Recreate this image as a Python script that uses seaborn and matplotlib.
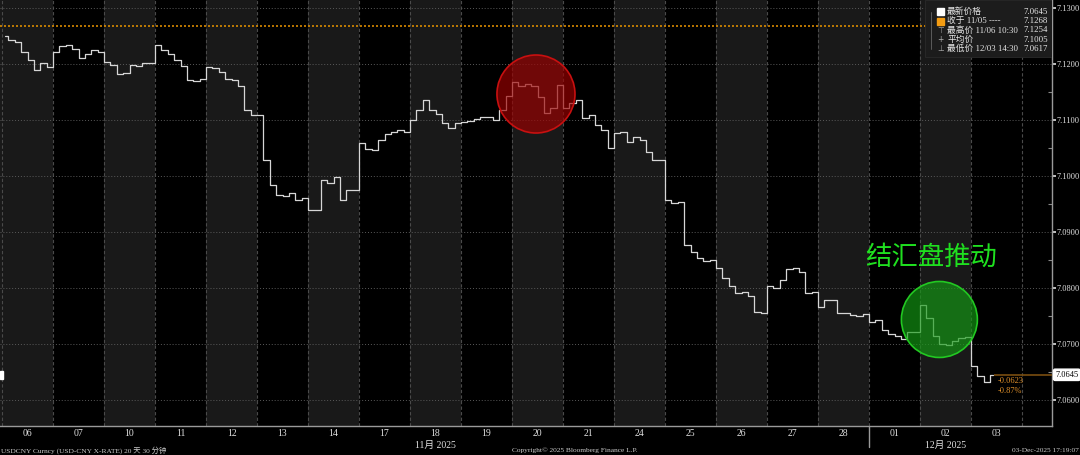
import numpy as np
import pandas as pd
import seaborn as sns
import matplotlib.pyplot as plt
from matplotlib.patches import Ellipse, Rectangle

# 交易日
days = ['06', '07', '10', '11', '12', '13', '14', '17', '18', '19',
        '20', '21', '24', '25', '26', '27', '28', '01', '02', '03']

# 每日收盘价（30分钟，按图读取）
d06 = [7.1250, 7.1243, 7.1239, 7.1221, 7.1207, 7.1189, 7.1202, 7.1195]
d07 = [7.1221, 7.1232, 7.1234, 7.1227, 7.1211, 7.1218, 7.1225, 7.1221]
d10 = [7.1204, 7.1198, 7.1182, 7.1184, 7.1198, 7.1196, 7.1202, 7.1202]
d11 = [7.1234, 7.1225, 7.1218, 7.1207, 7.1196, 7.1171, 7.1170, 7.1173]
d12 = [7.1195, 7.1193, 7.1186, 7.1173, 7.1171, 7.1161, 7.1118, 7.1109]
d13 = [7.1109, 7.1029, 7.0984, 7.0966, 7.0964, 7.0970, 7.0957, 7.0961]
d14 = [7.0939, 7.0939, 7.0993, 7.0988, 7.0998, 7.0957, 7.0975, 7.0975]
d17 = [7.1059, 7.1048, 7.1046, 7.1064, 7.1075, 7.1079, 7.1082, 7.1079]
d18 = [7.1100, 7.1118, 7.1136, 7.1118, 7.1111, 7.1095, 7.1086, 7.1095]
d19 = [7.1096, 7.1098, 7.1102, 7.1105, 7.1105, 7.1100, 7.1118, 7.1143]
d20 = [7.1168, 7.1161, 7.1164, 7.1161, 7.1141, 7.1113, 7.1121, 7.1163]
d21 = [7.1121, 7.1130, 7.1136, 7.1104, 7.1109, 7.1091, 7.1082, 7.1050]
d24 = [7.1077, 7.1079, 7.1061, 7.1070, 7.1064, 7.1043, 7.1029, 7.1029]
d25 = [7.0957, 7.0952, 7.0954, 7.0877, 7.0864, 7.0854, 7.0848, 7.0850]
d26 = [7.0836, 7.0818, 7.0804, 7.0791, 7.0793, 7.0786, 7.0757, 7.0755]
d27 = [7.0804, 7.0800, 7.0814, 7.0834, 7.0836, 7.0829, 7.0791, 7.0793]
d28 = [7.0766, 7.0779, 7.0779, 7.0755, 7.0755, 7.0752, 7.0750, 7.0754]
d01 = [7.0739, 7.0743, 7.0725, 7.0718, 7.0714, 7.0709, 7.0721, 7.0721]
d02 = [7.0770, 7.0746, 7.0714, 7.0700, 7.0698, 7.0705, 7.0711, 7.0713]
d03 = [7.0661, 7.0643, 7.0632, 7.0645]

series = [d06, d07, d10, d11, d12, d13, d14, d17, d18, d19,
          d20, d21, d24, d25, d26, d27, d28, d01, d02, d03]

y_ticks = [7.06, 7.07, 7.08, 7.09, 7.10, 7.11, 7.12, 7.13]

last_px = 7.0645
close_1105 = 7.1268
legend_rows = [('最新价格', '7.0645'), ('收于 11/05 ----', '7.1268'),
               ('最高价 11/06 10:30', '7.1254'), ('平均价', '7.1005'),
               ('最低价 12/03 14:30', '7.0617')]

rows = []
for i, vals in enumerate(series):
    for j, v in enumerate(vals):
        rows.append({'x': i + (j + 0.5) / 8, 'px': v})
df = pd.DataFrame(rows)

sns.set_theme(style='dark', rc={'axes.facecolor': 'black', 'figure.facecolor': 'black'})
FONT = ['Liberation Serif', 'Noto Sans CJK SC', 'DejaVu Sans']
plt.rcParams['font.family'] = FONT

fig = plt.figure(figsize=(10.8, 4.55), dpi=100, facecolor='black')
ax = fig.add_axes([0, 29 / 455, 1052 / 1080, 426 / 455])
ax.set_facecolor('black')

# 交替日底色 + 日分隔虚线
for i in range(0, 20, 2):
    ax.axvspan(i if i else -0.1, i + 1, color='#191919', lw=0, zorder=0)
for i in range(0, 21):
    ax.axvline(i, color='#4a4a4a', lw=0.8, ls=(0, (3, 2)), zorder=1)
for t in y_ticks:
    ax.axhline(t, color='#5a5a5a', lw=0.7, ls=(0, (1, 2)), zorder=1)

ax.axhline(close_1105, color='#d98a00', lw=1.2, ls=(0, (1.2, 1.2)), zorder=2)

sns.lineplot(data=df, x='x', y='px', ax=ax, color='#d6d6d6', lw=0.9,
             drawstyle='steps-mid', zorder=3)

# 圈注
ax.add_patch(Ellipse((10.47, 7.11464), 1.53, 0.01393, facecolor='#a00000', alpha=0.65,
                     edgecolor='none', zorder=4))
ax.add_patch(Ellipse((10.47, 7.11464), 1.53, 0.01393, facecolor='none',
                     edgecolor='#c81010', lw=1.2, zorder=4))
ax.add_patch(Ellipse((18.38, 7.07438), 1.49, 0.01357, facecolor='#149c14', alpha=0.65,
                     edgecolor='none', zorder=4))
ax.add_patch(Ellipse((18.38, 7.07438), 1.49, 0.01357, facecolor='none',
                     edgecolor='#22c822', lw=1.2, zorder=4))
ax.text(18.22, 7.0855, '结汇盘推动', color='#1fe01f', fontsize=19,
        family=['Noto Sans CJK SC', 'DejaVu Sans'], ha='center', va='center', zorder=5)

# 最新价
ax.hlines(last_px, 19.45, 20.6, color='#7a4e10', lw=1.2, zorder=3)
ax.text(19.53, 7.0634, '-0.0623', color='#e0902a', fontsize=6, va='center', zorder=5)
ax.text(19.53, 7.0616, '-0.87%', color='#e0902a', fontsize=6, va='center', zorder=5)
ytr = ax.get_yaxis_transform()
ax.text(1.003, last_px, '7.0645', transform=ytr, color='black', fontsize=6,
        va='center', ha='left', clip_on=False,
        bbox=dict(boxstyle='round,pad=0.2', fc='white', ec='white'))
ax.add_patch(Rectangle((0, last_px - 0.0007), 0.003, 0.0014, transform=ytr,
                       color='white', clip_on=False, zorder=6))

ax.set_xlim(-2 / 51, 1050 / 51)
ax.set_ylim(7.13 - 418 / 5600, 7.13 + 8 / 5600)

ax.yaxis.tick_right()
ax.set_yticks(y_ticks)
ax.set_yticklabels([f'{t:.4f}' for t in y_ticks])
ax.set_yticks([t + 0.005 for t in y_ticks[:-1]], minor=True)
ax.tick_params(axis='y', which='major', colors='#e0e0e0', length=3, width=1.2,
               labelsize=6, pad=0.5, right=True, left=False)
ax.tick_params(axis='y', which='minor', color='#888888', length=3, width=0.8,
               direction='in', right=True, left=False)
ax.set_xticks([i + 0.5 for i in range(20)])
ax.set_xticklabels(days)
ax.tick_params(axis='x', colors='#e0e0e0', length=0, labelsize=7, pad=2, bottom=True)
ax.set_xlabel('')
ax.set_ylabel('')
ax.grid(False)
for s in ['top', 'left']:
    ax.spines[s].set_visible(False)
for s in ['right', 'bottom']:
    ax.spines[s].set_visible(True)
    ax.spines[s].set_color('#9a9a9a')
    ax.spines[s].set_linewidth(1)

xtr = ax.get_xaxis_transform()
ax.text(8.5, -0.035, '11月 2025', transform=xtr, color='#e0e0e0', fontsize=7,
        ha='center', va='top')
ax.text(18.5, -0.035, '12月 2025', transform=xtr, color='#e0e0e0', fontsize=7,
        ha='center', va='top')
ax.plot([17, 17], [0, -0.05], transform=xtr, color='#9a9a9a', lw=1, clip_on=False)

# 图例框
ax.add_patch(Rectangle((925 / 1052, 1 - 57 / 426), 127 / 1052, 57 / 426,
                       transform=ax.transAxes, facecolor='#1c1c1c', edgecolor='#2a2a2a',
                       lw=0.6, zorder=7))
marks = ['sq_w', 'sq_o', '⊤', '+', '⊥']
for k, (lab, val) in enumerate(legend_rows):
    yy = 1 - (12 + 9.2 * k) / 426
    if marks[k] == 'sq_w':
        ax.add_patch(Rectangle((937 / 1052, yy - 3.5 / 426), 7 / 1052, 7 / 426,
                               transform=ax.transAxes, color='white', zorder=8))
    elif marks[k] == 'sq_o':
        ax.add_patch(Rectangle((937 / 1052, yy - 3.5 / 426), 7 / 1052, 7 / 426,
                               transform=ax.transAxes, color='#f39c12', zorder=8))
    else:
        ax.text(940.5 / 1052, yy, marks[k], transform=ax.transAxes, color='#aaaaaa',
                fontsize=5.5, ha='center', va='center', zorder=8,
                family=['DejaVu Sans'])
    ax.text(947 / 1052, yy, lab, transform=ax.transAxes, color='#e8e8e8', fontsize=6.3,
            ha='left', va='center', zorder=8)
    ax.text(1048 / 1052, yy, val, transform=ax.transAxes, color='#e8e8e8', fontsize=6.3,
            ha='right', va='center', zorder=8)
ax.plot([931 / 1052, 931 / 1052], [1 - 12 / 426, 1 - 49 / 426], transform=ax.transAxes,
        color='#666666', lw=0.6, zorder=8)

fig.text(1 / 1080, 5 / 455, 'USDCNY Curncy (USD-CNY X-RATE) 20 天 30 分钟',
         color='#cccccc', fontsize=5.3, ha='left', va='center')
fig.text(575 / 1080, 5 / 455, 'Copyright© 2025 Bloomberg Finance L.P.',
         color='#cccccc', fontsize=5.3, ha='center', va='center')
fig.text(1079 / 1080, 5 / 455, '03-Dec-2025 17:19:07',
         color='#cccccc', fontsize=5.3, ha='right', va='center')

fig.savefig('out.png', dpi=100, facecolor='black')
